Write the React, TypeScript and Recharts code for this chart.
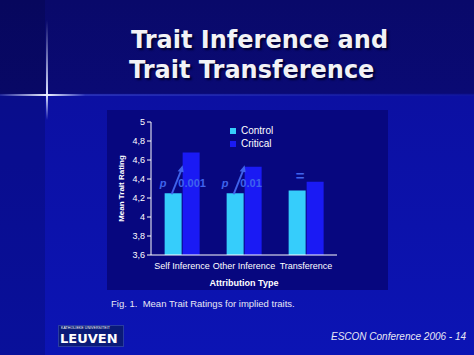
import { BarChart, Bar, XAxis, YAxis, LabelList } from "recharts";

// Mean Trait Rating per attribution type
const categories = ["Self Inference", "Other Inference", "Transference"];
const controlValues = [4.25, 4.25, 4.28];
const criticalValues = [4.68, 4.53, 4.37];
const notes = ["p = 0.001", "p = 0.01", "="];
const yTicks = [3.6, 3.8, 4, 4.2, 4.4, 4.6, 4.8, 5];

const data = categories.map((name, i) => ({
  name,
  control: controlValues[i],
  critical: criticalValues[i],
  note: notes[i],
}));

const FONT = "'Liberation Sans', Arial, sans-serif";
const NOTE_COLOR = "#3f63ec";

const fmt = (v: number) => String(v).replace(".", ",");

function NoteLabel(props: any) {
  const { x, y, width, index } = props;
  const note = notes[index];
  if (note === "=") {
    return (
      <text
        x={x + width / 2 + 3}
        y={y - 9}
        textAnchor="middle"
        fill={NOTE_COLOR}
        fontSize={15}
        fontWeight="bold"
        fontFamily={FONT}
      >
        =
      </text>
    );
  }
  const rest = note.replace("p = ", "");
  const ax1 = x + 7;
  const ay1 = y + 1;
  const ax2 = x + 17;
  const ay2 = y - 28;
  return (
    <g>
      <text x={x - 5} y={y - 6} fill={NOTE_COLOR} fontSize={11} fontWeight="bold" fontFamily={FONT}>
        <tspan fontStyle="italic">p</tspan>
        <tspan dx={12}>{rest}</tspan>
      </text>
      <line x1={ax1} y1={ay1} x2={ax2} y2={ay2 + 4} stroke={NOTE_COLOR} strokeWidth={2} />
      <polygon
        points={`${ax2 + 1},${ay2} ${ax2 - 4},${ay2 + 6} ${ax2 + 2},${ay2 + 7}`}
        fill={NOTE_COLOR}
      />
    </g>
  );
}

function LegendBox() {
  const item = (color: string, label: string) => (
    <div style={{ display: "flex", alignItems: "center", height: 13 }}>
      <span style={{ width: 6, height: 6, background: color, marginRight: 5 }} />
      <span>{label}</span>
    </div>
  );
  return (
    <div
      style={{
        position: "absolute",
        left: 123,
        top: 14,
        color: "#ffffff",
        fontFamily: FONT,
        fontSize: 10,
      }}
    >
      {item("#36cdfb", "Control")}
      {item("#1a1af4", "Critical")}
    </div>
  );
}

export default function App() {
  return (
    <div
      style={{
        position: "absolute",
        left: 0,
        top: 0,
        width: 474,
        height: 355,
        overflow: "hidden",
        background:
          "linear-gradient(180deg, #09096a 0px, #0a0a74 93px, #0c10a2 96px, #0c14b4 355px)",
        fontFamily: FONT,
      }}
    >
      {/* darker left strip */}
      <div
        style={{
          position: "absolute",
          left: 0,
          top: 0,
          width: 45,
          height: 355,
          background: "rgba(0,0,40,0.18)",
        }}
      />
      {/* star */}
      <div
        style={{
          position: "absolute",
          left: 46,
          top: 20,
          width: 2,
          height: 100,
          background: "linear-gradient(180deg, rgba(120,140,255,0), #dfe6ff 75%, rgba(120,140,255,0))",
        }}
      />
      <div
        style={{
          position: "absolute",
          left: 0,
          top: 94,
          width: 474,
          height: 2,
          background:
            "linear-gradient(90deg, rgba(120,140,255,0.2), #eef2ff 10%, rgba(100,120,255,0.3) 18%, rgba(40,60,200,0.12) 100%)",
        }}
      />

      <div
        style={{
          position: "absolute",
          left: 129,
          top: 25,
          color: "#f2f2f6",
          fontFamily: "'DejaVu Sans', Verdana, sans-serif",
          fontWeight: "bold",
          fontSize: 24,
          lineHeight: "30px",
          textShadow: "2px 2px 2px #000030",
          whiteSpace: "nowrap",
        }}
      >
        <div style={{ paddingLeft: 2 }}>Trait Inference and</div>
        <div>Trait Transference</div>
      </div>

      {/* chart panel */}
      <div
        style={{
          position: "absolute",
          left: 107,
          top: 110,
          width: 281,
          height: 180,
          background: "#07077f",
        }}
      >
        <BarChart
          width={281}
          height={180}
          data={data}
          margin={{ top: 12, right: 51, bottom: 0, left: 0 }}
          barGap={1}
          barCategoryGap="22%"
        >
          <XAxis
            dataKey="name"
            height={35}
            tick={{ fill: "#ffffff", fontSize: 9, fontFamily: FONT }}
            tickLine={false}
            axisLine={{ stroke: "#ffffff" }}
            interval={0}
            label={{
              value: "Attribution Type",
              position: "insideBottom",
              offset: 4,
              fill: "#ffffff",
              fontSize: 9,
              fontWeight: "bold",
              fontFamily: FONT,
            }}
          />
          <YAxis
            width={44}
            domain={[3.6, 5]}
            ticks={yTicks}
            tickFormatter={fmt}
            tick={{ fill: "#ffffff", fontSize: 9, fontFamily: FONT }}
            tickSize={4}
            tickLine={{ stroke: "#ffffff" }}
            axisLine={{ stroke: "#ffffff" }}
            allowDataOverflow
            label={{
              value: "Mean Trait Rating",
              angle: -90,
              position: "insideLeft",
              offset: 14,
              style: { textAnchor: "middle" },
              fill: "#ffffff",
              fontSize: 8,
              fontWeight: "bold",
              fontFamily: FONT,
            }}
          />
          <Bar dataKey="control" fill="#36cdfb" isAnimationActive={false}>
            <LabelList dataKey="note" content={NoteLabel} />
          </Bar>
          <Bar dataKey="critical" fill="#1a1af4" isAnimationActive={false} />
        </BarChart>
        <LegendBox />
      </div>

      <div
        style={{
          position: "absolute",
          left: 111,
          top: 298,
          color: "#e8e8f4",
          fontSize: 9.5,
          whiteSpace: "nowrap",
        }}
      >
        Fig. 1.&nbsp; Mean Trait Ratings for implied traits.
      </div>

      {/* logo */}
      <div
        style={{
          position: "absolute",
          left: 58,
          top: 325,
          width: 66,
          height: 22,
          background: "#0a1a78",
          border: "1px solid #2a3ca0",
          color: "#ffffff",
          boxSizing: "border-box",
          overflow: "hidden",
        }}
      >
        <div style={{ fontSize: 3.5, lineHeight: "5px", height: 5, paddingLeft: 2, letterSpacing: 0.1 }}>
          KATHOLIEKE UNIVERSITEIT
        </div>
        <div
          style={{
            fontSize: 13,
            fontWeight: "bold",
            lineHeight: "15px",
            paddingLeft: 1,
            fontFamily: "'DejaVu Sans', sans-serif",
          }}
        >
          LEUVEN
        </div>
      </div>

      <div
        style={{
          position: "absolute",
          left: 331,
          top: 331,
          color: "#e8e8f4",
          fontSize: 10,
          fontStyle: "italic",
          whiteSpace: "nowrap",
        }}
      >
        ESCON Conference 2006 - 14
      </div>
    </div>
  );
}
